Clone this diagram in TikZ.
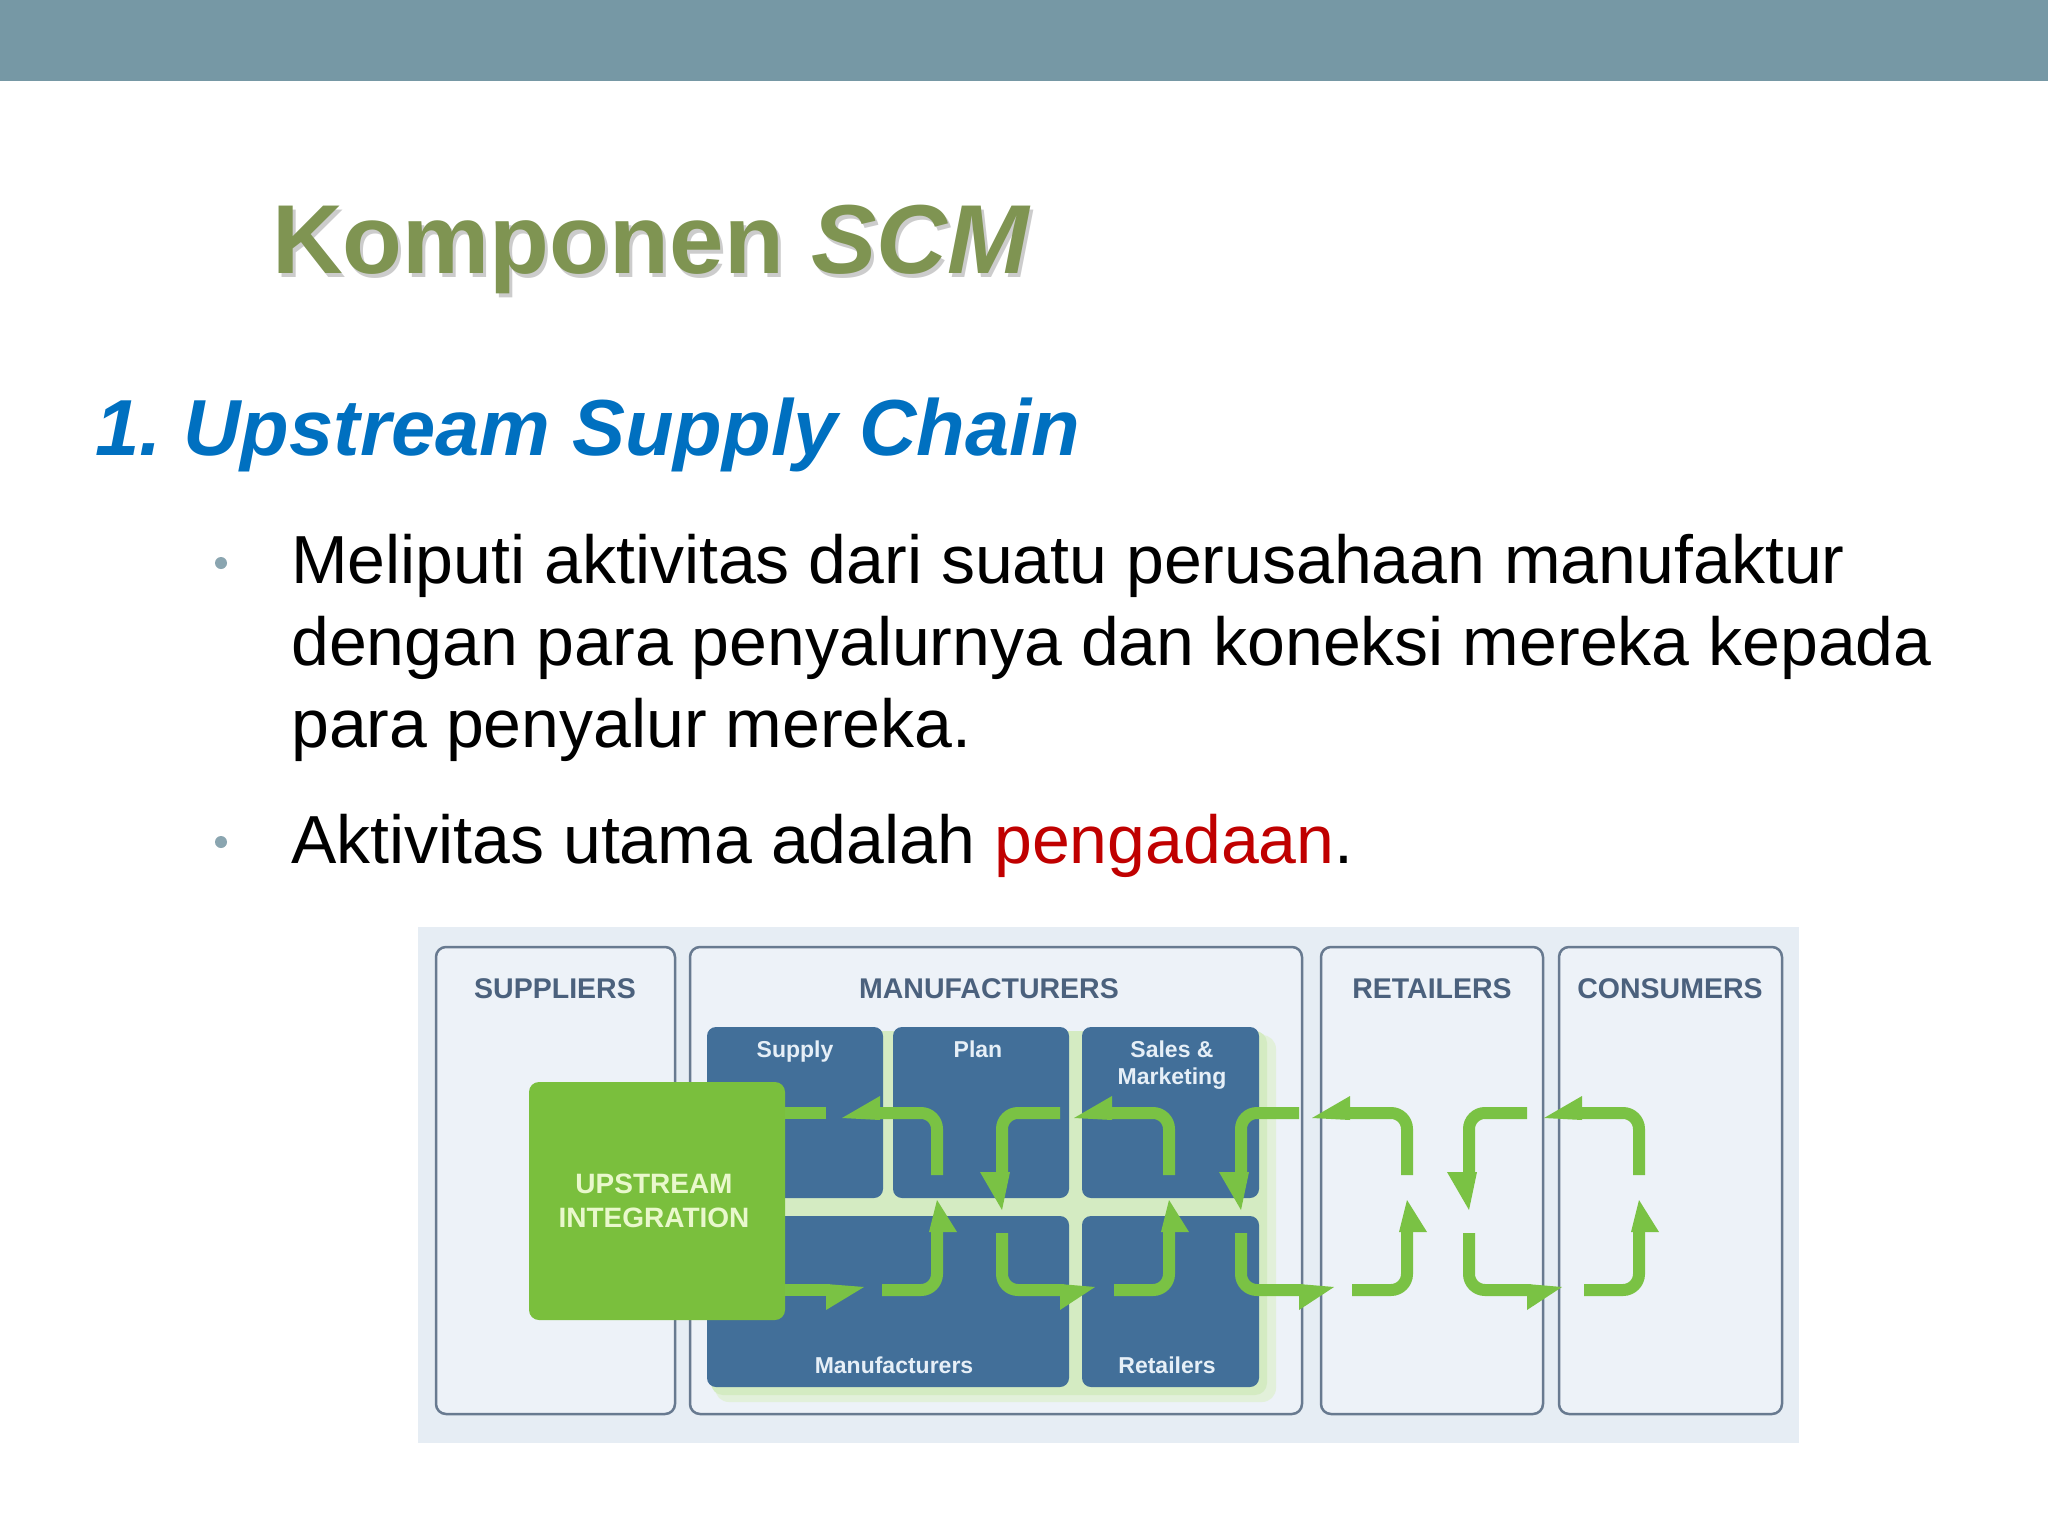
\documentclass[tikz,border=0pt]{standalone}
\usepackage{fontspec}
\setmainfont{Liberation Sans}
\frenchspacing
\definecolor{barcol}{HTML}{7698A5}
\definecolor{olive}{HTML}{7F9452}
\definecolor{subblue}{HTML}{0070C0}
\definecolor{bulcol}{HTML}{8AA5B0}
\definecolor{redword}{HTML}{C00000}
\definecolor{diagbg}{HTML}{E6EDF4}
\definecolor{panelfill}{HTML}{EDF2F8}
\definecolor{panelline}{HTML}{687A90}
\definecolor{panellabel}{HTML}{4B617D}
\definecolor{boxblue}{HTML}{426F99}
\definecolor{boxtext}{HTML}{E6EFF7}
\definecolor{gbox}{HTML}{7ABF3D}
\definecolor{gtext}{HTML}{E9F8CC}
\definecolor{garrow}{HTML}{7AC244}
\definecolor{glowA}{HTML}{E2F0DA}
\definecolor{glowB}{HTML}{D4EBC2}
\begin{document}
\begin{tikzpicture}[x=1pt,y=-1pt,
  panel/.style={draw=panelline,line width=2.5pt,fill=panelfill,rounded corners=10pt},
  plabel/.style={text=panellabel,font=\bfseries\fontsize{28.5}{30}\selectfont,inner sep=0pt,anchor=base},
  bluebox/.style={fill=boxblue,rounded corners=9pt},
  blabel/.style={text=boxtext,font=\bfseries\fontsize{23}{26}\selectfont,inner sep=0pt,anchor=base},
  gline/.style={draw=garrow,line width=12pt,rounded corners=16pt},
  ghead/.style={fill=garrow},
  bodytext/.style={font=\fontsize{68}{82}\selectfont,inner sep=0pt,anchor=base west},
  bullet/.style={circle,fill=bulcol,inner sep=0pt,minimum size=12pt}]
\useasboundingbox (0,0) rectangle (2048,1536);
\fill[white] (0,0) rectangle (2048,1536);
\fill[barcol] (0,0) rectangle (2048,81);

% title
\node[inner sep=0pt,anchor=base west,text=gray!40,font=\bfseries\fontsize{98}{110}\selectfont] (titleshadow) at (275,277) {Komponen \textit{SCM}};
\node[inner sep=0pt,anchor=base west,text=olive,font=\bfseries\fontsize{98}{110}\selectfont] (title) at (272,273) {Komponen \textit{SCM}};

% subtitle
\node[inner sep=0pt,anchor=base west,text=subblue,font=\bfseries\itshape\fontsize{79.5}{90}\selectfont] (subtitle) at (95,455) {1. Upstream Supply Chain};

% bullets
\node[bullet] (b1dot) at (221,563) {};
\node[bodytext] (b1l1) at (291,583) {Meliputi aktivitas dari suatu perusahaan manufaktur};
\node[bodytext] (b1l2) at (291,665) {dengan para penyalurnya dan koneksi mereka kepada};
\node[bodytext] (b1l3) at (291,747) {para penyalur mereka.};
\node[bullet] (b2dot) at (221,842) {};
\node[bodytext] (b2l1) at (291,863) {Aktivitas utama adalah \textcolor{redword}{pengadaan}.};

% diagram background
\fill[diagbg] (418,927) rectangle (1799,1443);
\path[panel] (436,947) rectangle (675,1414);
\path[panel] (690,947) rectangle (1302,1414);
\path[panel] (1321,947) rectangle (1543,1414);
\path[panel] (1559,947) rectangle (1782,1414);
\node[plabel] (suppliers) at (555,998) {SUPPLIERS};
\node[plabel] (manufacturers) at (989,998) {MANUFACTURERS};
\node[plabel] (retailers) at (1432,998) {RETAILERS};
\node[plabel] (consumers) at (1670,998) {CONSUMERS};

% soft green glow behind blue blocks (right and bottom)
\fill[glowA,rounded corners=14pt] (715,1035) rectangle (1276,1402);
\fill[glowB,rounded corners=12pt] (711,1031) rectangle (1267,1395);

% blue boxes
\path[bluebox] (707,1027) rectangle (883,1198);
\path[bluebox] (893,1027) rectangle (1069,1198);
\path[bluebox] (1082,1027) rectangle (1259,1198);
\path[bluebox] (707,1216) rectangle (1069,1387);
\path[bluebox] (1082,1216) rectangle (1259,1387);
\node[blabel] (supply) at (795,1057) {Supply};
\node[blabel] (plan) at (978,1057) {Plan};
\node[blabel] (sales) at (1172,1057) {Sales \&};
\node[blabel] (marketing) at (1172,1084) {Marketing};
\node[blabel] (mfg) at (894,1373) {Manufacturers};
\node[blabel] (ret) at (1167,1373) {Retailers};

% upstream integration box
\path[fill=gbox,rounded corners=10pt] (529,1082) rectangle (785,1320);
\node[inner sep=0pt,anchor=base,text=gtext,font=\bfseries\fontsize{28}{30}\selectfont] (upstream) at (654,1193) {UPSTREAM};
\node[inner sep=0pt,anchor=base,text=gtext,font=\bfseries\fontsize{28}{30}\selectfont] (integration) at (654,1227) {INTEGRATION};

% green flow arrows
\draw[gline] (785,1113) -- (826,1113);
\draw[gline] (785,1290) -- (830,1290);
\fill[ghead] (826,1284) -- (864,1287) -- (826,1310) -- cycle;
\foreach \u in {937,1169,1407,1639}{
  \draw[gline] (\u,1175) -- (\u,1113) -- ({\u-62},1113);
  \fill[ghead] ({\u-57},1096) -- ({\u-57},1120) -- ({\u-95},1118) -- cycle;
  \draw[gline] ({\u-55},1290) -- (\u,1290) -- (\u,1228);
  \fill[ghead] ({\u-8},1232) -- ({\u+20},1232) -- (\u,1200) -- cycle;
}
\foreach \d in {1002,1241,1469}{
  \draw[gline] ({\d+58},1113) -- (\d,1113) -- (\d,1176);
  \fill[ghead] ({\d-22},1172) -- ({\d+8},1172) -- (\d,1210) -- cycle;
  \draw[gline] (\d,1233) -- (\d,1290) -- ({\d+62},1290);
  \fill[ghead] ({\d+58},1284) -- ({\d+93},1287) -- ({\d+58},1310) -- cycle;
}
\end{tikzpicture}
\end{document}
